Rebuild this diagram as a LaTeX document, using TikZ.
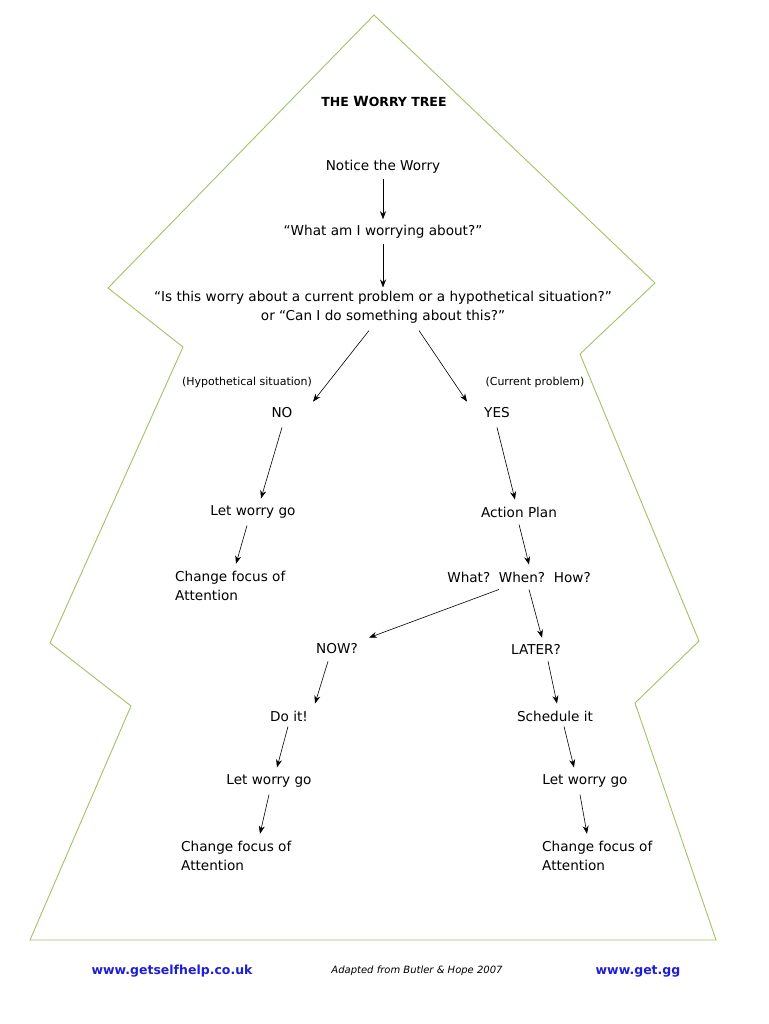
\documentclass[tikz,border=0pt]{standalone}
\usepackage{fontspec}
\setmainfont{DejaVu Sans}
\usetikzlibrary{arrows.meta, positioning}
\definecolor{treegreen}{RGB}{160,195,100}
\definecolor{linkblue}{RGB}{30,30,210}
\tikzset{
	stage/.style={font=\fontsize{13.6}{19.5}\selectfont, inner sep=1pt},
	tag/.style={font=\fontsize{11}{13}\selectfont, inner sep=1pt},
	flow/.style={-{Stealth[length=8pt,width=6pt]}, semithick}
}
\begin{document}
\begin{tikzpicture}[x=1pt, y=-1pt]
		\useasboundingbox (0,0) rectangle (768,1024);

		% Tree outline
		\draw[treegreen, line width=0.9pt] (374,15) -- (108,288) -- (183,347) -- (50,643) -- (131,706) -- (30,940)
			-- (716,940) -- (635,703) -- (699,641) -- (580,354) -- (655,283) -- cycle;

		% Title
		\node (title) at (384,101) [font=\fontsize{12.5}{14}\selectfont\bfseries] {THE {\fontsize{14}{14}\selectfont W}ORRY TREE};

		% Top of the tree
		\begin{scope}
			\node (notice) at (383,167) [stage] {Notice the Worry};
			\node (what) at (383,232) [stage] {“What am I worrying about?”};
			\node (is) at (383,307) [stage, align=center] {“Is this worry about a current problem or a hypothetical situation?”\\or “Can I do something about this?”};
		\end{scope}

		% Hypothetical branch
		\begin{scope}
			\node (hyp) at (247,382) [tag] {(Hypothetical situation)};
			\node (no) at (282,413) [stage] {NO};
			\node (letgo1) at (253,512) [stage] {Let worry go};
			\node (change1) at (174,586) [stage, align=left, anchor=west] {Change focus of\\Attention};
		\end{scope}

		% Current problem branch
		\begin{scope}
			\node (cur) at (535,382) [tag] {(Current problem)};
			\node (yes) at (497,413) [stage] {YES};
			\node (action) at (519,512) [stage] {Action Plan};
			\node (www) at (519,577) [stage] {What?~~When?~~How?};
		\end{scope}

		% Now / later
		\begin{scope}
			\node (now) at (337,649) [stage] {NOW?};
			\node (doit) at (289,716) [stage] {Do it!};
			\node (letgo2) at (269,781) [stage] {Let worry go};
			\node (change2) at (180,856) [stage, align=left, anchor=west] {Change focus of\\Attention};

			\node (later) at (536,649) [stage] {LATER?};
			\node (sched) at (555,716) [stage] {Schedule it};
			\node (letgo3) at (585,781) [stage] {Let worry go};
			\node (change3) at (541,856) [stage, align=left, anchor=west] {Change focus of\\Attention};
		\end{scope}

		% Arrows
		\draw[flow] ([yshift=-4pt]notice.south) -- ([yshift=5pt]what.north);
		\draw[flow] ([yshift=-4pt]what.south) -- ([yshift=2pt]is.north -| what.north);
		\draw[flow] ([xshift=-14pt,yshift=-6pt]is.south) -- ([xshift=31pt,yshift=5pt]no.north);
		\draw[flow] ([xshift=36pt,yshift=-6pt]is.south) -- ([xshift=-30pt,yshift=5pt]yes.north);
		\draw[flow] ([yshift=-8pt]no.south) -- ([xshift=8pt,yshift=6pt]letgo1.north);
		\draw[flow] ([yshift=-8pt]yes.south) -- ([xshift=-4pt,yshift=6pt]action.north);
		\draw[flow] ([xshift=-6pt,yshift=-6pt]letgo1.south) -- ([xshift=62pt,yshift=6pt]change1.north west);
		\draw[flow] ([yshift=-6pt]action.south) -- ([xshift=10pt,yshift=6pt]www.north);
		\draw[flow] ([xshift=-20pt,yshift=-6pt]www.south) -- ([xshift=32pt,yshift=5pt]now.north);
		\draw[flow] ([xshift=10pt,yshift=-6pt]www.south) -- ([xshift=6pt,yshift=5pt]later.north);
		\draw[flow] ([xshift=-9pt,yshift=-6pt]now.south) -- ([xshift=26pt,yshift=6pt]doit.north);
		\draw[flow] ([xshift=12pt,yshift=-6pt]later.south) -- ([xshift=2pt,yshift=6pt]sched.north);
		\draw[flow] ([xshift=-1pt,yshift=-4pt]doit.south) -- ([xshift=8pt,yshift=6pt]letgo2.north);
		\draw[flow] ([xshift=9pt,yshift=-4pt]sched.south) -- ([xshift=-11pt,yshift=6pt]letgo3.north);
		\draw[flow] ([yshift=-6pt]letgo2.south) -- ([xshift=80pt,yshift=6pt]change2.north west);
		\draw[flow] ([xshift=-5pt,yshift=-6pt]letgo3.south) -- ([xshift=46pt,yshift=6pt]change3.north west);

		% Footer
		\node (site) at (172,971) [font=\fontsize{12.5}{14}\selectfont\bfseries, text=linkblue] {www.getselfhelp.co.uk};
		\node (credit) at (417,971) [font=\fontsize{10}{12}\selectfont\itshape] {Adapted from Butler \& Hope 2007};
		\node (gg) at (638,971) [font=\fontsize{12.5}{14}\selectfont\bfseries, text=linkblue] {www.get.gg};
	\end{tikzpicture}
\end{document}
